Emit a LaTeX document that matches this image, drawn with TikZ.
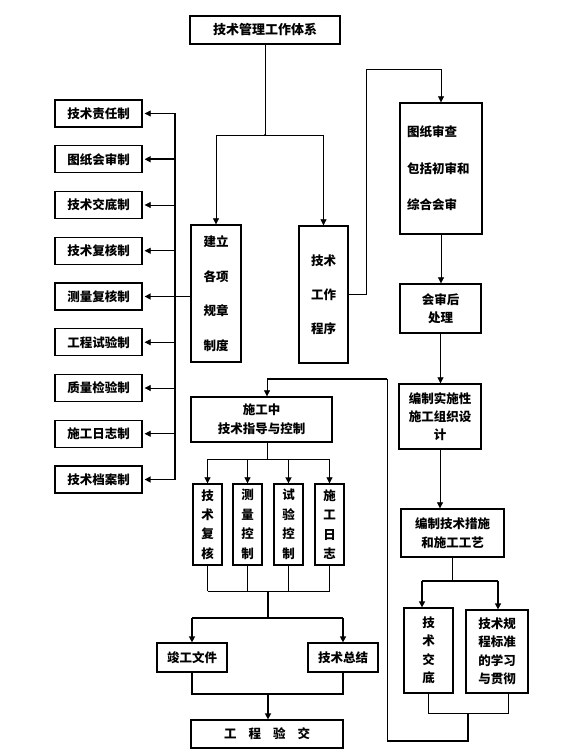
\documentclass[tikz,border=0pt]{standalone}
\usepackage{fontspec}
\newfontfamily\cjk{Noto Sans CJK SC}
\usetikzlibrary{arrows.meta}
\begin{document}
\begin{tikzpicture}[x=1pt,y=-1pt,
  box/.style={draw, line width=1.3pt, inner sep=0pt, align=center,
    font=\cjk\bfseries\fontsize{12.5}{#1}\selectfont},
  box/.default=18,
  ln/.style={line width=0.7pt},
  lnb/.style={line width=1.6pt},
  arr/.style={-{Triangle[length=6pt,width=6pt]}}]
\fill[white] (0,0) rectangle (562,754);
\useasboundingbox (0,0) rectangle (562,754);

% top
\node[box, font=\cjk\bfseries\fontsize{13}{18}\selectfont, minimum width=150pt, minimum height=28pt] (top) at (265,30) {技术管理工作体系};

% left column
\foreach \t [count=\i] in {技术责任制,图纸会审制,技术交底制,技术复核制,测量复核制,工程试验制,质量检验制,施工日志制,技术档案制}
  \node[box, minimum width=87pt, minimum height=27pt] (L\i) at (98.5,{113.5+45.75*(\i-1)}) {\t};

% middle upper
\node[box=34.5, minimum width=50pt, minimum height=137pt] (jianli) at (216,293.5) {建立\\各项\\规章\\制度};
\node[box=34, minimum width=49pt, minimum height=137pt] (jishu) at (323.5,294.5) {技术\\工作\\程序};

% right column
\node[box=36.5, align=left, text width=68pt, inner xsep=7pt, minimum height=131pt] (tuzhi) at (441,168.5) {图纸审查\\包括初审和\\综合会审};
\node[box, minimum width=81pt, minimum height=49pt] (huishen) at (440.5,308.5) {会审后\\处理};
\node[box, minimum width=82pt, minimum height=65pt] (bianzhi1) at (440,416.5) {编制实施性\\施工组织设\\计};
\node[box=19, minimum width=103pt, minimum height=48pt] (bianzhi2) at (452.5,533) {编制技术措施\\和施工工艺};
\node[box=18.5, minimum width=49pt, minimum height=85pt] (jiaodi) at (428.5,650.5) {技\\术\\交\\底};
\node[box=18.5, minimum width=62pt, minimum height=83pt] (guicheng) at (497,651.5) {技术规\\程标准\\的学习\\与贯彻};

% middle lower
\node[box=19, minimum width=141pt, minimum height=45pt] (shigong) at (261.5,419.5) {施工中\\技术指导与控制};
\node[box=19.5, minimum width=29pt, minimum height=81pt] (s1) at (207.5,524.5) {技\\术\\复\\核};
\node[box=19.5, minimum width=29pt, minimum height=81pt] (s2) at (247.5,524.5) {测\\量\\控\\制};
\node[box=19.5, minimum width=29pt, minimum height=81pt] (s3) at (288.5,524.5) {试\\验\\控\\制};
\node[box=19.5, minimum width=29pt, minimum height=81pt] (s4) at (329.5,524.5) {施\\工\\日\\志};
\node[box, minimum width=70pt, minimum height=29pt] (jungong) at (192,657.5) {竣工文件};
\node[box, minimum width=70pt, minimum height=29pt] (zongjie) at (343,657.5) {技术总结};
\node[box, minimum width=152pt, minimum height=28pt] (yanjiao) at (267,734) {工\hspace{12pt}程\hspace{12pt}验\hspace{12pt}交};

% top connectors
\coordinate (j1) at (265,135);
\draw[ln] (top.south) -- (j1);
\draw[ln] (j1 -| jianli) -- (j1 -| jishu);
\fill (j1) circle (1.2pt);
\draw[ln,arr] (j1 -| jianli) -- (jianli.north);
\draw[ln,arr] (j1 -| jishu) -- (jishu.north);

% left bus
\coordinate (bus) at (175,0);
\draw[lnb] (bus |- L1) -- (bus |- L9);
\foreach \i in {1,3,4,6,7,8}
  \draw[ln,arr,shorten >=2pt] (bus |- L\i) -- (L\i.east);
\foreach \i in {2,9}
  \draw[lnb,arr,shorten >=2pt] (bus |- L\i) -- (L\i.east);
\draw[lnb,arr,shorten >=2pt] (jianli.west |- L5) -- (L5.east);

% procedure chain
\coordinate (c1) at (366,69);
\draw[ln,arr] (jishu.east) -- (jishu.east -| c1) -- (c1) -- (c1 -| tuzhi) -- (tuzhi.north);
\draw[ln,arr] (tuzhi.south) -- (tuzhi.south |- huishen.north);
\draw[ln,arr] (huishen.south) -- (huishen.south |- bianzhi1.north);
\draw[ln,arr] (bianzhi1.south) -- (bianzhi1.south |- bianzhi2.north);

\coordinate (c2l) at (422,581);
\coordinate (c2r) at (498,581);
\draw[ln] (bianzhi2.south) -- (bianzhi2.south |- c2l);
\draw[lnb] (c2l) -- (c2r);
\draw[lnb,arr] (c2l) -- (c2l |- jiaodi.north);
\draw[lnb,arr] (c2r) -- (c2r |- guicheng.north);

\coordinate (c3l) at (428,713);
\coordinate (c3r) at (508,713);
\draw[ln] (c3l |- jiaodi.south) -- (c3l) -- (c3r) -- (c3r |- guicheng.south);
\coordinate (c4) at (468,713);
\coordinate (c5) at (468,741);
\coordinate (c6) at (387,741);
\coordinate (c7) at (387,379);
\coordinate (c8) at (267,379);
\draw[lnb] (c4) -- (c5) -- (c6);
\draw[ln] (c6) -- (c7);
\draw[lnb] (c7) -- (c8);
\draw[ln,arr] (c8) -- (c8 |- shigong.north);

% construction branch
\coordinate (c9) at (267,459);
\draw[ln] (c9 |- shigong.south) -- (c9);
\draw[ln] (c9 -| s1) -- (c9 -| s4);
\foreach \i in {1,2,4}
  \draw[ln,arr] (c9 -| s\i) -- (s\i.north);
\draw[lnb,arr] (c9 -| s3) -- (s3.north);

\coordinate (c10) at (268,591);
\foreach \i in {1,2,4}
  \draw[ln] (s\i.south) -- (s\i.south |- c10);
\draw[lnb] (s3.south) -- (s3.south |- c10);
\draw[ln] (c10 -| s1) -- (c10 -| s4);
\coordinate (c11) at (268,618);
\draw[lnb] (c10) -- (c11);
\draw[lnb] (c11 -| jungong) -- (c11 -| zongjie);
\draw[lnb,arr] (c11 -| jungong) -- (jungong.north);
\draw[lnb,arr] (c11 -| zongjie) -- (zongjie.north);
\coordinate (c12) at (268,694);
\draw[lnb] (jungong.south) -- (jungong.south |- c12) -- (zongjie.south |- c12) -- (zongjie.south);
\draw[lnb,arr] (c12) -- (c12 |- yanjiao.north);
\end{tikzpicture}
\end{document}
